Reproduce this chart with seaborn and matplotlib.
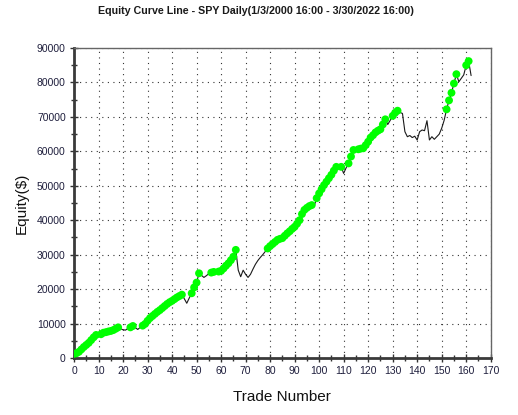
import numpy as np
import pandas as pd
import seaborn as sns
import matplotlib.pyplot as plt
from matplotlib.ticker import MultipleLocator

# Equity after each trade
equity = [
    1200, 1400, 1800, 2500, 3200, 3800, 4400, 5200, 6000, 6700,
    6300, 6900, 7350, 7500, 7700, 7850, 8100, 8500, 8900, 8500,
    8200, 8100, 8600, 8900, 9300, 8800, 8300, 8900, 9400, 9900,
    10800, 11600, 12200, 12800, 13400, 13900, 14500, 15100, 15700, 16200,
    16600, 17100, 17600, 18000, 18400, 17200, 15900, 17400, 18800, 20500,
    21900, 24600, 24000, 23400, 23900, 24500, 24800, 25000, 24800, 25100,
    25300, 26000, 26800, 27500, 28400, 29400, 31400, 25500, 23600, 25500,
    24300, 23400, 24300, 25800, 27200, 28300, 29200, 30000, 30900, 31800,
    32500, 33100, 33700, 34300, 34600, 34800, 35500, 36200, 36800, 37500,
    38100, 39000, 40000, 41800, 43000, 43600, 44100, 44400, 44200, 46400,
    47800, 49000, 50200, 51200, 52200, 53200, 54400, 55500, 55300, 55500,
    53600, 55200, 56500, 58500, 60400, 60300, 60600, 60800, 60900, 61800,
    62800, 64000, 64700, 65500, 66000, 66400, 67800, 69300, 67800, 69000,
    70300, 71200, 71800, 71300, 71000, 65700, 64250, 64600, 64000, 64400,
    63300, 65700, 66200, 66000, 68900, 63300, 64250, 63500, 64250, 65000,
    66700, 69000, 72200, 74800, 77000, 79700, 82400, 80200, 81200, 82200,
    85000, 86200, 82000,
]

df = pd.DataFrame({"trade": np.arange(len(equity)), "equity": equity})
# green dots mark the trades that set a new equity high
highs = df[df["equity"] >= df["equity"].cummax()]

sns.set_style("white")
plt.rcParams["font.family"] = ["Liberation Sans", "DejaVu Sans"]

fig = plt.figure(figsize=(5.18, 4.15), dpi=100)
ax = fig.add_axes([0.1429, 0.1373, 0.8044, 0.747])

sns.lineplot(data=df, x="trade", y="equity", color="#1a1a1a", linewidth=0.8, ax=ax)
sns.scatterplot(data=highs, x="trade", y="equity", color="#00ff00", s=32,
                edgecolor="none", zorder=3, ax=ax)

ax.set_xlim(0, 170)
ax.set_ylim(0, 90000)
ax.xaxis.set_major_locator(MultipleLocator(10))
ax.xaxis.set_minor_locator(MultipleLocator(5))
ax.yaxis.set_major_locator(MultipleLocator(10000))
ax.yaxis.set_minor_locator(MultipleLocator(5000))

ax.grid(True, which="major", color="#333333", linestyle=(0, (1, 4)), linewidth=0.8)
ax.tick_params(which="major", direction="inout", length=6, width=1, color="#333333",
               labelsize=7.5, labelcolor="#1f1f3d", pad=3)
ax.tick_params(which="minor", direction="inout", length=5, width=1, color="#333333")
ax.tick_params(axis="x", which="both", bottom=True)
ax.tick_params(axis="y", which="both", left=True)

for side in ["left", "bottom"]:
    ax.spines[side].set_linewidth(2)
    ax.spines[side].set_color("#3a3a3a")
for side in ["top", "right"]:
    ax.spines[side].set_linewidth(1)
    ax.spines[side].set_color("#666666")

ax.set_xlabel("Trade Number", fontsize=11, labelpad=10, color="#111111")
ax.set_ylabel("Equity($)", fontsize=11, labelpad=6, color="#111111")
fig.text(0.495, 0.985, "Equity Curve Line - SPY Daily(1/3/2000 16:00 - 3/30/2022 16:00)",
         ha="center", va="top", fontsize=7.7, fontweight="bold", color="#1a1a1a")

fig.savefig("out.png", dpi=100)
